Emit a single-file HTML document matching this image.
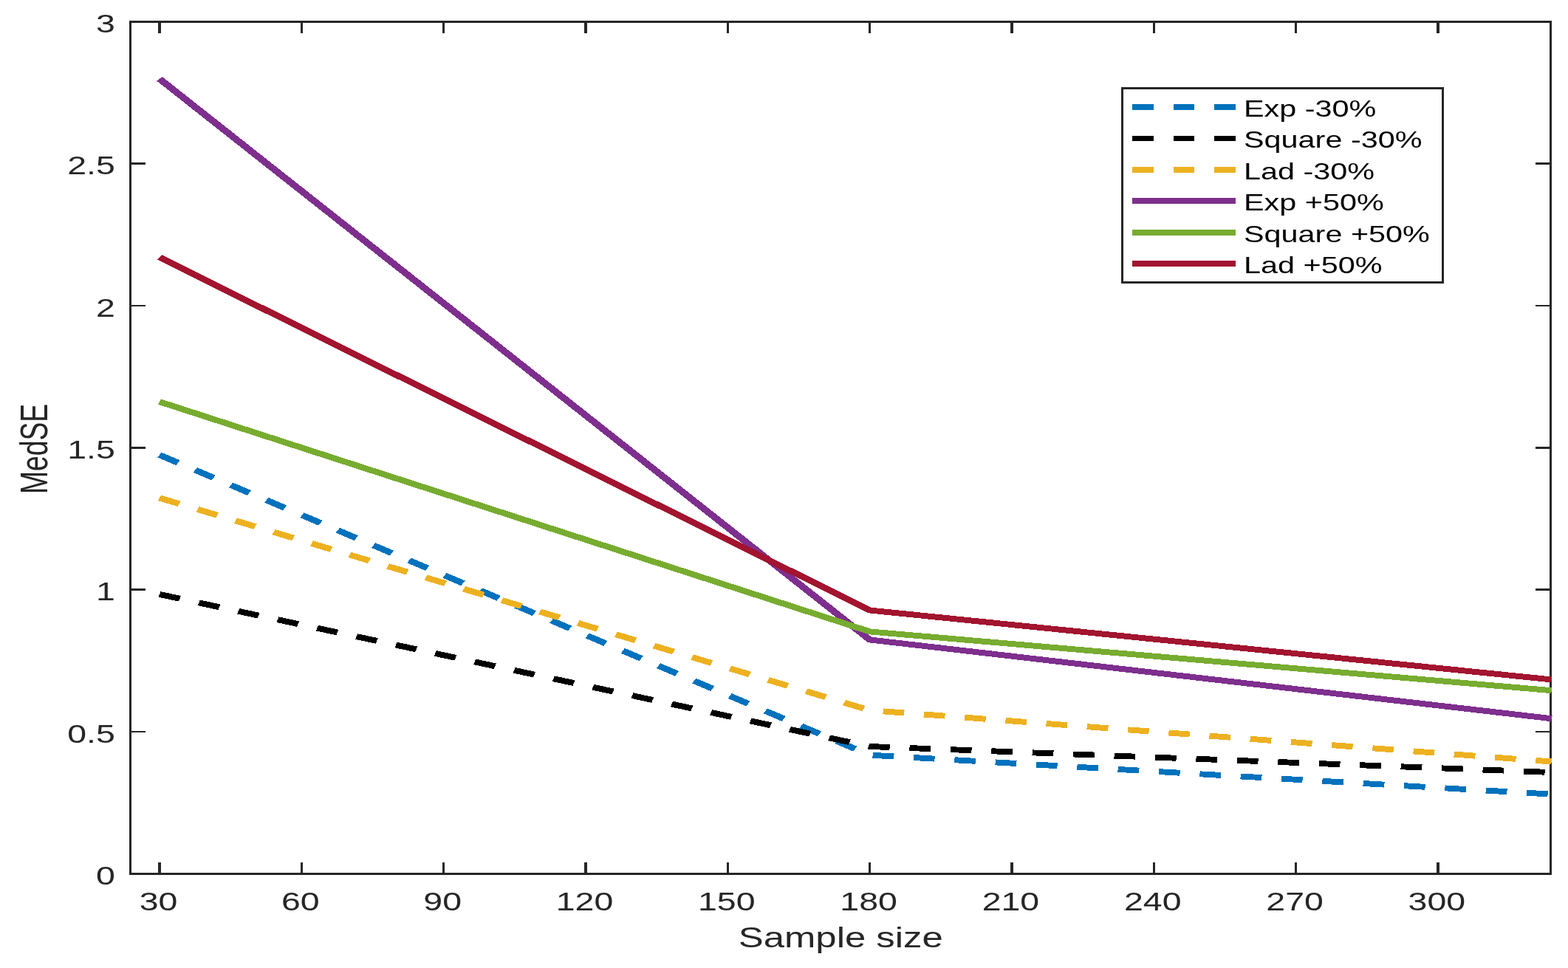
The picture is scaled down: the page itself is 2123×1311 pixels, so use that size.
<!DOCTYPE html>
<html lang="en"><head><meta charset="utf-8"><title>MedSE vs Sample size</title>
<style>html,body{margin:0;padding:0;background:#fff;overflow:hidden}svg{display:block}text{font-family:"Liberation Sans",Arial,Helvetica,sans-serif;fill:#262626}</style></head><body>
<svg width="2123" height="1311" viewBox="0 0 2123 1311">
<rect x="0" y="0" width="2123" height="1311" fill="#fff"/>
<g fill="#262626">
<rect x="175.00" y="28.00" width="1926.00" height="3"/>
<rect x="175.00" y="1182.00" width="1926.00" height="3"/>
<rect x="175.00" y="28.00" width="3" height="1157.00"/>
<rect x="2098.00" y="28.00" width="3" height="1157.00"/>
<rect x="214" y="28" width="4" height="17"/>
<rect x="214" y="1168" width="4" height="17"/>
<rect x="407" y="28" width="3" height="17"/>
<rect x="407" y="1168" width="3" height="17"/>
<rect x="599" y="28" width="3" height="17"/>
<rect x="599" y="1168" width="3" height="17"/>
<rect x="791" y="28" width="4" height="17"/>
<rect x="791" y="1168" width="4" height="17"/>
<rect x="984" y="28" width="3" height="17"/>
<rect x="984" y="1168" width="3" height="17"/>
<rect x="1176" y="28" width="3" height="17"/>
<rect x="1176" y="1168" width="3" height="17"/>
<rect x="1368" y="28" width="4" height="17"/>
<rect x="1368" y="1168" width="4" height="17"/>
<rect x="1561" y="28" width="3" height="17"/>
<rect x="1561" y="1168" width="3" height="17"/>
<rect x="1753" y="28" width="3" height="17"/>
<rect x="1753" y="1168" width="3" height="17"/>
<rect x="1945" y="28" width="4" height="17"/>
<rect x="1945" y="1168" width="4" height="17"/>
<rect x="175" y="990" width="22" height="2"/>
<rect x="2079" y="990" width="22" height="2"/>
<rect x="175" y="797" width="22" height="3"/>
<rect x="2079" y="797" width="22" height="3"/>
<rect x="175" y="605" width="22" height="3"/>
<rect x="2079" y="605" width="22" height="3"/>
<rect x="175" y="413" width="22" height="2"/>
<rect x="2079" y="413" width="22" height="2"/>
<rect x="175" y="220" width="22" height="3"/>
<rect x="2079" y="220" width="22" height="3"/>
</g>
<g font-size="33.70">
<text transform="matrix(1.3800 0 0 1.0500 214.50 1233.00)" text-anchor="middle">30</text>
<text transform="matrix(1.3800 0 0 1.0500 406.82 1233.00)" text-anchor="middle">60</text>
<text transform="matrix(1.3800 0 0 1.0500 599.14 1233.00)" text-anchor="middle">90</text>
<text transform="matrix(1.3800 0 0 1.0500 791.46 1233.00)" text-anchor="middle">120</text>
<text transform="matrix(1.3800 0 0 1.0500 983.78 1233.00)" text-anchor="middle">150</text>
<text transform="matrix(1.3800 0 0 1.0500 1176.10 1233.00)" text-anchor="middle">180</text>
<text transform="matrix(1.3800 0 0 1.0500 1368.42 1233.00)" text-anchor="middle">210</text>
<text transform="matrix(1.3800 0 0 1.0500 1560.74 1233.00)" text-anchor="middle">240</text>
<text transform="matrix(1.3800 0 0 1.0500 1753.06 1233.00)" text-anchor="middle">270</text>
<text transform="matrix(1.3800 0 0 1.0500 1945.38 1233.00)" text-anchor="middle">300</text>
<text transform="matrix(1.3800 0 0 1.0500 155.90 1197.90)" text-anchor="end">0</text>
<text transform="matrix(1.3800 0 0 1.0500 155.90 1005.57)" text-anchor="end">0.5</text>
<text transform="matrix(1.3800 0 0 1.0500 155.90 813.23)" text-anchor="end">1</text>
<text transform="matrix(1.3800 0 0 1.0500 155.90 620.90)" text-anchor="end">1.5</text>
<text transform="matrix(1.3800 0 0 1.0500 155.90 428.57)" text-anchor="end">2</text>
<text transform="matrix(1.3800 0 0 1.0500 155.90 236.23)" text-anchor="end">2.5</text>
<text transform="matrix(1.3800 0 0 1.0500 155.90 43.90)" text-anchor="end">3</text>
</g>
<g font-size="37.60">
<text transform="matrix(1.3532 0 0 1.0400 1138.30 1283.00)" text-anchor="middle">Sample size</text>
<text transform="matrix(0 -0.9900 1.4008 0 63.70 607.90)" text-anchor="middle">MedSE</text>
</g>
<g><g transform="scale(1.3450 1)" fill="none" stroke-width="7.90" stroke-linejoin="miter" shape-rendering="crispEdges">
<polyline points="160.59,616.15 875.54,1022.60 1561.89,1075.67" stroke="#0072BD" stroke-dasharray="21.32 19.95"/>
<polyline points="160.59,804.90 875.54,1011.00 1561.89,1046.05" stroke="#000000" stroke-dasharray="21.32 19.95"/>
<polyline points="160.59,674.40 875.54,962.00 1561.89,1031.49" stroke="#EDB120" stroke-dasharray="21.32 19.95"/>
<polyline points="160.59,106.80 875.54,866.40 1561.89,973.24" stroke="#7E2F8E"/>
<polyline points="160.59,544.10 875.54,855.40 1561.89,935.21" stroke="#77AC30"/>
<polyline points="160.59,348.40 875.54,826.50 1561.89,920.43" stroke="#A2142F"/>
</g></g>
<rect x="1519.50" y="119.50" width="434.00" height="263.00" fill="#fff" stroke="#262626" stroke-width="3"/>
<g transform="scale(1.3450 1)" fill="none" stroke-width="7.90" shape-rendering="crispEdges">
<line x1="1139.78" y1="145.10" x2="1243.87" y2="145.10" stroke="#0072BD" stroke-dasharray="21.32 19.95"/>
<line x1="1139.78" y1="187.50" x2="1243.87" y2="187.50" stroke="#000000" stroke-dasharray="21.32 19.95"/>
<line x1="1139.78" y1="229.90" x2="1243.87" y2="229.90" stroke="#EDB120" stroke-dasharray="21.32 19.95"/>
<line x1="1139.78" y1="272.30" x2="1243.87" y2="272.30" stroke="#7E2F8E"/>
<line x1="1139.78" y1="314.70" x2="1243.87" y2="314.70" stroke="#77AC30"/>
<line x1="1139.78" y1="357.10" x2="1243.87" y2="357.10" stroke="#A2142F"/>
</g>
<g font-size="31.00" fill="#000">
<text style="fill:#000" transform="matrix(1.3350 0 0 1.0400 1684.00 158.00)">Exp -30%</text>
<text style="fill:#000" transform="matrix(1.3350 0 0 1.0400 1684.00 200.40)">Square -30%</text>
<text style="fill:#000" transform="matrix(1.3350 0 0 1.0400 1684.00 242.80)">Lad -30%</text>
<text style="fill:#000" transform="matrix(1.3350 0 0 1.0400 1684.00 285.20)">Exp +50%</text>
<text style="fill:#000" transform="matrix(1.3350 0 0 1.0400 1684.00 327.60)">Square +50%</text>
<text style="fill:#000" transform="matrix(1.3350 0 0 1.0400 1684.00 370.00)">Lad +50%</text>
</g>
</svg></body></html>
